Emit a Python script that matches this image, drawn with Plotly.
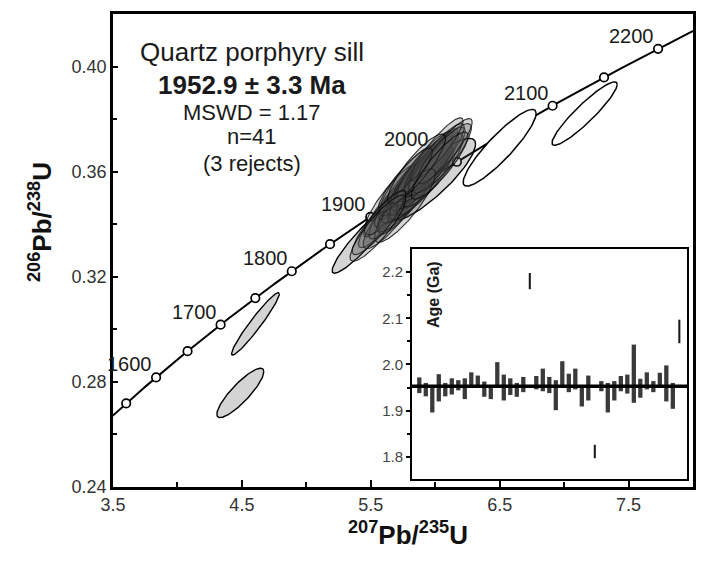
import numpy as np
import plotly.graph_objects as go

# ---------------- DATA ----------------
# U decay constants (per year) used to place the concordia
LAMBDA_238 = 1.55125e-10
LAMBDA_235 = 9.8485e-10

concordia_marker_ages = [1550, 1600, 1650, 1700, 1750, 1800, 1850, 1900, 1950,
                         2000, 2050, 2100, 2150, 2200]          # Ma
concordia_label_ages = [1600, 1700, 1800, 1900, 2000, 2100, 2200]  # Ma

# isolated ellipses: 207Pb/235U, 206Pb/238U centres, 1-sigma errors, rho, fill kind
single_x = [5.973, 4.488, 4.605, 5.446, 6.500, 7.159]
single_y = [0.3570, 0.2758, 0.3021, 0.3345, 0.3691, 0.3821]
single_sx = [0.170, 0.0911, 0.0926, 0.1229, 0.1415, 0.1264]
single_sy = [0.00785, 0.00470, 0.00594, 0.00657, 0.00730, 0.00604]
single_rho = [0.859, 0.862, 0.959, 0.925, 0.897, 0.922]
single_kind = ["grey", "grey", "grey", "grey", "open", "open"]

# main cluster ellipses
cluster_x = [5.616, 5.665, 5.645, 5.705, 5.680, 5.770, 5.744, 5.789, 5.764, 5.808,
             5.847, 5.794, 5.850, 5.843, 5.877, 5.847, 5.875, 5.920, 5.867, 5.923,
             5.905, 5.933, 5.919, 5.982, 5.968, 5.967, 6.011, 6.009, 6.054, 6.012,
             6.073, 5.765, 5.767, 5.855, 6.035, 5.564, 5.555]
cluster_y = [0.3435, 0.3439, 0.3468, 0.3472, 0.3498, 0.3484, 0.3516, 0.3512, 0.3538, 0.3534,
             0.3532, 0.3566, 0.3551, 0.3565, 0.3555, 0.3578, 0.3576, 0.3566, 0.3600, 0.3585,
             0.3604, 0.3602, 0.3623, 0.3606, 0.3627, 0.3643, 0.3639, 0.3655, 0.3651, 0.3685,
             0.3678, 0.3471, 0.3567, 0.3611, 0.3623, 0.3406, 0.3385]
cluster_sx = [0.106, 0.112, 0.100, 0.110, 0.115, 0.105, 0.108, 0.118, 0.102, 0.111,
              0.107, 0.113, 0.104, 0.110, 0.116, 0.100, 0.108, 0.112, 0.105, 0.107,
              0.115, 0.101, 0.110, 0.117, 0.106, 0.104, 0.111, 0.108, 0.113, 0.102,
              0.107, 0.118, 0.105, 0.112, 0.110, 0.104, 0.108]
cluster_sy = [0.0062, 0.0066, 0.0058, 0.0064, 0.0069, 0.0061, 0.0063, 0.0070, 0.0060, 0.0065,
              0.0062, 0.0067, 0.0059, 0.0064, 0.0069, 0.0058, 0.0062, 0.0066, 0.0061, 0.0063,
              0.0067, 0.0059, 0.0065, 0.0070, 0.0062, 0.0060, 0.0065, 0.0064, 0.0066, 0.0060,
              0.0062, 0.0070, 0.0061, 0.0066, 0.0064, 0.0061, 0.0063]
cluster_rho = [0.89, 0.87, 0.90, 0.88, 0.86, 0.89, 0.91, 0.87, 0.89, 0.88,
               0.90, 0.86, 0.89, 0.88, 0.87, 0.91, 0.89, 0.88, 0.90, 0.89,
               0.87, 0.90, 0.88, 0.86, 0.89, 0.90, 0.88, 0.89, 0.87, 0.90,
               0.89, 0.86, 0.89, 0.87, 0.88, 0.89, 0.88]

# inset: individual 206Pb/238U ages (Ga), error-bar ends, reject flags
inset_index = list(range(1, 42))
age_low = [1.938, 1.931, 1.896, 1.920, 1.931, 1.935, 1.944, 1.925, 1.951, 1.953,
           1.930, 1.925, 1.953, 1.922, 1.934, 1.930, 1.940, 2.163, 1.946, 1.942,
           1.938, 1.901, 1.949, 1.940, 1.946, 1.909, 1.922, 1.797, 1.942, 1.896,
           1.922, 1.942, 1.937, 1.917, 1.928, 1.946, 1.940, 1.953, 1.920, 1.904,
           2.046]
age_high = [1.972, 1.960, 1.953, 1.979, 1.960, 1.970, 1.966, 1.970, 1.983, 1.976,
            1.963, 1.953, 2.005, 1.978, 1.970, 1.960, 1.973, 2.198, 1.975, 1.991,
            1.973, 1.966, 2.007, 1.980, 1.991, 1.954, 1.976, 1.826, 1.964, 1.960,
            1.964, 1.975, 1.978, 2.043, 1.969, 1.983, 1.964, 1.982, 1.998, 1.960,
            2.097]
rejected = [18, 28, 41]
weighted_mean_ga = 1.9529

x_ticks = [3.5, 4.5, 5.5, 6.5, 7.5]
y_ticks = [0.24, 0.28, 0.32, 0.36, 0.40]
inset_ticks = [1.8, 1.9, 2.0, 2.1, 2.2]

text_block = ["Quartz porphyry sill", "<b>1952.9 ± 3.3 Ma</b>", "MSWD = 1.17", "n=41", "(3 rejects)"]

# ---------------- FIGURE ----------------
FONT = "Liberation Sans, Arial, sans-serif"


def conc(t_ma):
    t = np.asarray(t_ma, dtype=float) * 1e6
    return np.exp(LAMBDA_235 * t) - 1, np.exp(LAMBDA_238 * t) - 1


def ellipse(cx, cy, sx, sy, rho, k=2.0, n=120):
    th = np.linspace(0, 2 * np.pi, n)
    ex = cx + k * sx * np.cos(th)
    ey = cy + k * sy * (rho * np.cos(th) + np.sqrt(1 - rho ** 2) * np.sin(th))
    return ex, ey


fig = go.Figure()

# concordia curve + markers
cx_line, cy_line = conc(np.linspace(1500, 2260, 300))
fig.add_trace(go.Scatter(x=cx_line, y=cy_line, mode="lines",
                         line=dict(color="black", width=2), hoverinfo="skip"))
mx, my = conc(concordia_marker_ages)
fig.add_trace(go.Scatter(x=mx, y=my, mode="markers",
                         marker=dict(size=8.5, color="white", line=dict(color="black", width=1.7)),
                         hoverinfo="skip"))

GREY_FILL = "rgba(85,85,85,0.25)"

for i in range(len(single_x)):
    if single_kind[i] != "grey":
        continue
    ex, ey = ellipse(single_x[i], single_y[i], single_sx[i], single_sy[i], single_rho[i])
    fig.add_trace(go.Scatter(x=ex, y=ey, mode="lines", fill="toself", fillcolor=GREY_FILL,
                             line=dict(color="black", width=1.4), hoverinfo="skip"))

for i in range(len(cluster_x)):
    ex, ey = ellipse(cluster_x[i], cluster_y[i], cluster_sx[i], cluster_sy[i], cluster_rho[i])
    fig.add_trace(go.Scatter(x=ex, y=ey, mode="lines", fill="toself", fillcolor=GREY_FILL,
                             line=dict(color="rgba(0,0,0,0.8)", width=1.1), hoverinfo="skip"))

for i in range(len(single_x)):
    if single_kind[i] != "open":
        continue
    ex, ey = ellipse(single_x[i], single_y[i], single_sx[i], single_sy[i], single_rho[i])
    fig.add_trace(go.Scatter(x=ex, y=ey, mode="lines", fill="toself", fillcolor="white",
                             line=dict(color="black", width=1.5), hoverinfo="skip"))

# inset bars
keep = [i for i in range(len(inset_index)) if inset_index[i] not in rejected]
rej = [i for i in range(len(inset_index)) if inset_index[i] in rejected]
fig.add_trace(go.Bar(x=[inset_index[i] for i in keep],
                     y=[age_high[i] - age_low[i] for i in keep],
                     base=[age_low[i] for i in keep], width=0.66,
                     marker=dict(color="#3a3a3a", line=dict(width=0)),
                     xaxis="x2", yaxis="y2", hoverinfo="skip"))
fig.add_trace(go.Bar(x=[inset_index[i] for i in rej],
                     y=[age_high[i] - age_low[i] for i in rej],
                     base=[age_low[i] for i in rej], width=0.32,
                     marker=dict(color="#1a1a1a", line=dict(width=0)),
                     xaxis="x2", yaxis="y2", hoverinfo="skip"))
fig.add_trace(go.Scatter(x=[-1, 44], y=[weighted_mean_ga, weighted_mean_ga], mode="lines",
                         line=dict(color="black", width=3.6), xaxis="x2", yaxis="y2",
                         hoverinfo="skip"))

# geometry of plot area (pixels)
L, T, W, H = 113, 14, 580, 473
FIG_W, FIG_H = 720, 561


def px(xp):
    return (xp - L) / W


def py(yp):
    return (T + H - yp) / H


fig.update_layout(
    width=FIG_W, height=FIG_H,
    margin=dict(l=L, r=FIG_W - L - W, t=T, b=FIG_H - T - H),
    plot_bgcolor="white", paper_bgcolor="white", showlegend=False,
    barmode="overlay",
    font=dict(family=FONT, color="#222"),
    xaxis=dict(range=[3.5, 8.0], tickvals=x_ticks, ticktext=[f"{v:.1f}" for v in x_ticks],
               ticks="inside", ticklen=7, tickwidth=2, tickcolor="black",
               showline=True, linewidth=2.5, linecolor="black", mirror=True,
               showgrid=False, zeroline=False,
               tickfont=dict(size=18, color="#333", family=FONT),
               minor=dict(tickvals=[4.0, 5.0, 6.0, 7.0], ticks="inside", ticklen=5,
                          tickwidth=2, tickcolor="black", showgrid=False)),
    yaxis=dict(range=[0.24, 0.42], tickvals=y_ticks, ticktext=[f"{v:.2f}" for v in y_ticks],
               ticks="inside", ticklen=5, tickwidth=2, tickcolor="black",
               showline=True, linewidth=2.5, linecolor="black", mirror=True,
               showgrid=False, zeroline=False,
               tickfont=dict(size=18, color="#333", family=FONT),
               minor=dict(tickvals=[0.26, 0.30, 0.34, 0.38], ticks="inside", ticklen=4,
                          tickwidth=2, tickcolor="black", showgrid=False)),
    xaxis2=dict(domain=[px(412), px(687)], anchor="y2", range=[-0.12, 42.18],
                showticklabels=False, ticks="", showline=True, linewidth=2,
                linecolor="black", mirror=True, showgrid=False, zeroline=False),
    yaxis2=dict(domain=[py(479), py(249)], anchor="x2", range=[1.752, 2.25],
                tickvals=inset_ticks, ticktext=[f"{v:.1f}" for v in inset_ticks],
                ticks="outside", ticklen=4, tickwidth=1.5, tickcolor="black",
                showline=True, linewidth=2, linecolor="black", mirror=True,
                showgrid=False, zeroline=False,
                tickfont=dict(size=15, color="#444", family=FONT),
                minor=dict(tickvals=[1.85, 1.95, 2.05, 2.15], ticks="outside", ticklen=3,
                           tickwidth=1.5, tickcolor="black", showgrid=False)),
)

ann = []
block_y = [52, 85, 112, 137, 163]
block_size = [26, 26, 22, 22, 22]
for txt, yy, sz in zip(text_block, block_y, block_size):
    ann.append(dict(x=px(252), y=py(yy), xref="paper", yref="paper", text=txt,
                    showarrow=False, xanchor="center", yanchor="middle",
                    font=dict(size=sz, color="#1a1a1a", family=FONT)))

label_shift = {2000: (-26, 10)}
lx, ly = conc(concordia_label_ages)
for a, xx, yy in zip(concordia_label_ages, lx, ly):
    dx, dy = label_shift.get(a, (-2, 0))
    ann.append(dict(x=xx, y=yy, xref="x", yref="y", text=str(a), showarrow=False,
                    xanchor="right", yanchor="bottom", xshift=dx, yshift=dy,
                    font=dict(size=20, color="#1a1a1a", family=FONT)))

ann.append(dict(x=px(408), y=py(533), xref="paper", yref="paper",
                text="<b><sup>207</sup>Pb/<sup>235</sup>U</b>", showarrow=False,
                xanchor="center", yanchor="middle",
                font=dict(size=26, color="#111", family=FONT)))
ann.append(dict(x=px(40), y=py(222), xref="paper", yref="paper",
                text="<b><sup>206</sup>Pb/<sup>238</sup>U</b>", showarrow=False,
                textangle=-90, xanchor="center", yanchor="middle",
                font=dict(size=26, color="#111", family=FONT)))
ann.append(dict(x=px(433), y=py(295), xref="paper", yref="paper",
                text="<b>Age (Ga)</b>", showarrow=False, textangle=-90,
                xanchor="center", yanchor="middle",
                font=dict(size=16, color="#1a1a1a", family=FONT)))

fig.update_layout(annotations=ann)
fig.write_html("out.html")
